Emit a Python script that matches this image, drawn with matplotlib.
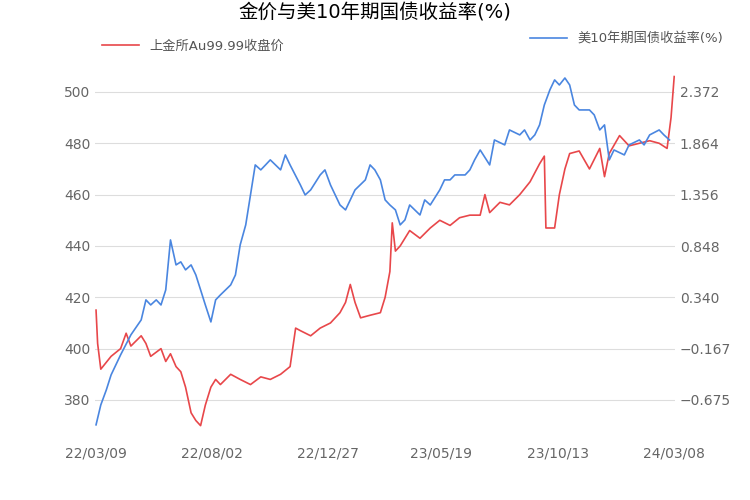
import matplotlib
matplotlib.use("Agg")
import matplotlib.pyplot as plt
import numpy as np
import pandas as pd

plt.rcParams['font.family'] = ['DejaVu Sans', 'Noto Sans CJK SC']

start = pd.Timestamp("2022-03-09")

# ------------------ DATA ------------------
gold_days = [0, 2, 6, 19, 31, 38, 44, 57, 63, 69, 82, 88, 94, 101, 107, 113, 120, 126, 132, 138,
             145, 151, 157, 170, 182, 195, 208, 220, 233, 245, 252, 258, 271, 283, 296, 308, 315,
             321, 327, 334, 346, 359, 365, 371, 374, 378, 384, 396, 409, 422, 434, 447, 459, 472,
             485, 491, 497, 510, 522, 535, 548, 560, 566, 568, 579, 585, 592, 598, 610, 623, 636,
             642, 648, 661, 673, 686, 699, 711, 721, 726, 730]
gold = [415, 402, 392, 397, 400, 406, 401, 405, 402, 397, 400, 395, 398, 393, 391, 385, 375, 372,
        370, 378, 385, 388, 386, 390, 388, 386, 389, 388, 390, 393, 408, 407, 405, 408, 410, 414,
        418, 425, 418, 412, 413, 414, 420, 430, 449, 438, 440, 446, 443, 447, 450, 448, 451, 452,
        452, 460, 453, 457, 456, 460, 465, 472, 475, 447, 447, 460, 470, 476, 477, 470, 478, 467,
        476, 483, 479, 480, 481, 480, 478, 490, 506]

yield_days = [0, 6, 13, 19, 31, 44, 57, 63, 69, 76, 82, 88, 94, 101, 107, 113, 120, 126, 132, 138,
              145, 151, 157, 170, 176, 182, 189, 195, 201, 208, 214, 220, 233, 239, 245, 258, 264,
              271, 283, 289, 296, 308, 315, 321, 327, 340, 346, 352, 359, 365, 371, 378, 384, 390,
              396, 409, 415, 422, 434, 440, 447, 453, 466, 472, 478, 485, 497, 503, 516, 522, 535,
              541, 548, 554, 560, 566, 573, 579, 585, 592, 598, 604, 610, 623, 629, 636, 642, 648,
              654, 667, 673, 686, 692, 699, 711, 717, 724]
yields = [-0.921, -0.724, -0.575, -0.427, -0.229, -0.031, 0.117, 0.315, 0.265, 0.315, 0.265,
          0.414, 0.908, 0.661, 0.691, 0.612, 0.661, 0.562, 0.414, 0.265, 0.097, 0.315, 0.364,
          0.463, 0.562, 0.859, 1.057, 1.353, 1.650, 1.601, 1.650, 1.700, 1.601, 1.749, 1.650,
          1.452, 1.353, 1.403, 1.551, 1.601, 1.452, 1.254, 1.205, 1.304, 1.403, 1.502, 1.650,
          1.601, 1.502, 1.304, 1.254, 1.205, 1.057, 1.106, 1.254, 1.155, 1.304, 1.254, 1.403,
          1.502, 1.502, 1.551, 1.551, 1.601, 1.700, 1.798, 1.650, 1.897, 1.848, 1.996, 1.947,
          1.996, 1.897, 1.947, 2.046, 2.243, 2.392, 2.491, 2.441, 2.510, 2.441, 2.243, 2.194,
          2.194, 2.145, 1.996, 2.046, 1.700, 1.798, 1.749, 1.848, 1.897, 1.848, 1.947, 1.996,
          1.947, 1.897]

left_ticks = [380, 400, 420, 440, 460, 480, 500]
right_ticks = [-0.675, -0.167, 0.340, 0.848, 1.356, 1.864, 2.372]
date_ticks = ["2022-03-09", "2022-08-02", "2022-12-27", "2023-05-19", "2023-10-13", "2024-03-08"]

# ------------------ PLOT ------------------
fig = plt.figure(figsize=(7.5, 5), dpi=100)
ax = fig.add_axes([0.127, 0.14, 0.773, 0.71])
ax2 = ax.twinx()

gx = start + pd.to_timedelta(gold_days, unit="D")
yx = start + pd.to_timedelta(yield_days, unit="D")
ax.plot(gx, gold, color="#e8474a", lw=1.2, label="上金所Au99.99收盘价")
ax2.plot(yx, yields, color="#4a86e0", lw=1.2, label="美10年期国债收益率(%)")

def to_right(v):
    return 2.372 + (v - 500) * 3.047 / 120

lo, hi = 368.3, 506.6
ax.set_ylim(lo, hi)
ax2.set_ylim(to_right(lo), to_right(hi))
ax.set_yticks(left_ticks)
ax2.set_yticks(right_ticks)
ax2.set_yticklabels([f"{t:.3f}".replace("-", "\u2212") for t in right_ticks])
ax.set_xlim(start - pd.Timedelta(days=1), pd.Timestamp("2024-03-09"))
dt = pd.to_datetime(date_ticks)
ax.set_xticks(dt)
ax.set_xticklabels([d.strftime("%y/%m/%d") for d in dt])

ax.grid(axis="y", color="#dddddd", lw=0.8)
for a in (ax, ax2):
    for s in a.spines.values():
        s.set_visible(False)
    a.tick_params(length=0, colors="#666666", labelsize=10)
ax.tick_params(axis="x", pad=12)

fig.text(0.5, 0.975, "金价与美10年期国债收益率(%)", ha="center", va="center", fontsize=14)
fig.legend(handles=ax.get_lines(), loc="center left", bbox_to_anchor=(0.12, 0.907),
           frameon=False, fontsize=9.5, labelcolor="#555555", handlelength=2.8)
fig.legend(handles=ax2.get_lines(), loc="center right", bbox_to_anchor=(0.98, 0.921),
           frameon=False, fontsize=9.5, labelcolor="#555555", handlelength=2.8)

plt.savefig("out.png")
